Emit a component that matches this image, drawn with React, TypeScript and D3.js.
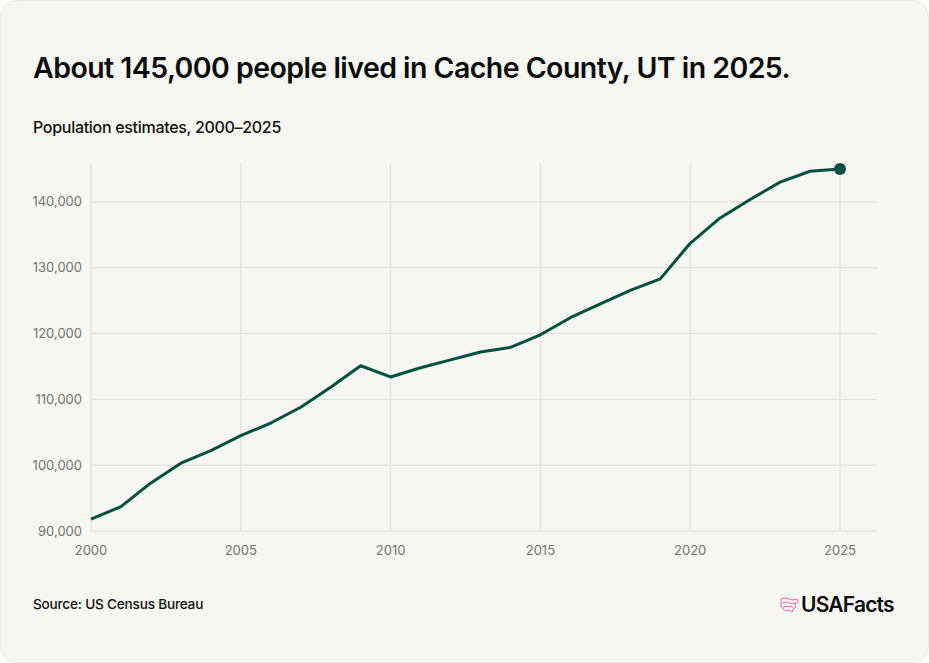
import React, { useEffect } from "react";
import * as d3 from "d3";

// Cache County, UT population estimates
const years: number[] = [
  2000, 2001, 2002, 2003, 2004, 2005, 2006, 2007, 2008, 2009, 2010, 2011, 2012,
  2013, 2014, 2015, 2016, 2017, 2018, 2019, 2020, 2021, 2022, 2023, 2024, 2025,
];
const population: number[] = [
  91800, 93700, 97300, 100300, 102200, 104500, 106400, 108800, 111850, 115100,
  113400, 114800, 116000, 117200, 117900, 119800, 122400, 124500, 126550, 128300,
  133700, 137550, 140350, 143000, 144650, 145000,
];
const yTicks: number[] = [90000, 100000, 110000, 120000, 130000, 140000];
const xTicks: number[] = [2000, 2005, 2010, 2015, 2020, 2025];

const W = 929;
const H = 663;
const FONT = "Inter, 'Noto Sans', sans-serif";
const LINE = "#00513f";

export default function App() {
  useEffect(() => {
    document.body.style.margin = "0";
  }, []);

  const x = d3.scaleLinear().domain([2000, 2025]).range([91, 840]);
  const y = d3.scaleLinear().domain([90000, 145900]).range([531, 163]);
  const fmt = d3.format(",");

  const data = years.map((yr, i) => ({ yr, v: population[i] }));
  const line = d3
    .line<{ yr: number; v: number }>()
    .x((d) => x(d.yr))
    .y((d) => y(d.v));

  const last = data[data.length - 1];

  return (
    <svg width={W} height={H} style={{ display: "block" }} fontFamily={FONT}>
      <rect x={0} y={0} width={W} height={H} fill="#ffffff" />
      <rect
        x={0.5}
        y={0.5}
        width={W - 1}
        height={H - 1}
        rx={16}
        fill="#f6f6f2"
        stroke="#ececE6"
      />

      <text x={33} y={78} fontSize={28.5} fontWeight={600} fill="#0d0d0d" letterSpacing={-0.55}>
        About 145,000 people lived in Cache County, UT in 2025.
      </text>
      <text x={33} y={133} fontSize={16} fontWeight={500} fill="#111" letterSpacing={-0.3}>
        Population estimates, 2000–2025
      </text>

      {/* horizontal gridlines */}
      {yTicks.map((t) => (
        <line key={"h" + t} x1={91} x2={877} y1={y(t)} y2={y(t)} stroke="#dddcd8" strokeWidth={1} />
      ))}
      {/* vertical gridlines */}
      {xTicks.map((t) => (
        <line key={"v" + t} x1={x(t)} x2={x(t)} y1={163} y2={531} stroke="#dddcd8" strokeWidth={1} />
      ))}

      {yTicks.map((t) => (
        <text
          key={"yl" + t}
          x={82}
          y={y(t)}
          dy="0.35em"
          textAnchor="end"
          fontSize={13}
          fill="#737373"
        >
          {fmt(t)}
        </text>
      ))}
      {xTicks.map((t) => (
        <text
          key={"xl" + t}
          x={x(t)}
          y={555}
          textAnchor="middle"
          fontSize={13}
          fill="#737373"
        >
          {t}
        </text>
      ))}

      <path d={line(data) || ""} fill="none" stroke={LINE} strokeWidth={3} strokeLinejoin="round" />
      <circle cx={x(last.yr)} cy={y(last.v)} r={6} fill={LINE} />

      <text x={33} y={609} fontSize={13.6} fontWeight={500} fill="#111" letterSpacing={-0.2}>
        Source: US Census Bureau
      </text>

      {/* USAFacts logo */}
      <g transform="translate(780,597)" fill="none" stroke="#ec6aa8" strokeWidth={1} strokeLinejoin="round">
        <path d="M1,2 L6,1 L12,3 L17,2 L18,5 L15,7 L16,10 L13,12 L12,15 L9,13 L6,14 L3,12 L1,9 Z" />
        <path d="M2,6 L7,5 L12,7 L16,6" />
        <path d="M3,10 L8,9 L13,10" />
      </g>
      <text x={801} y={612} fontSize={21} fontWeight={600} fill="#0d0d0d" letterSpacing={-0.8}>
        USAFacts
      </text>
    </svg>
  );
}
